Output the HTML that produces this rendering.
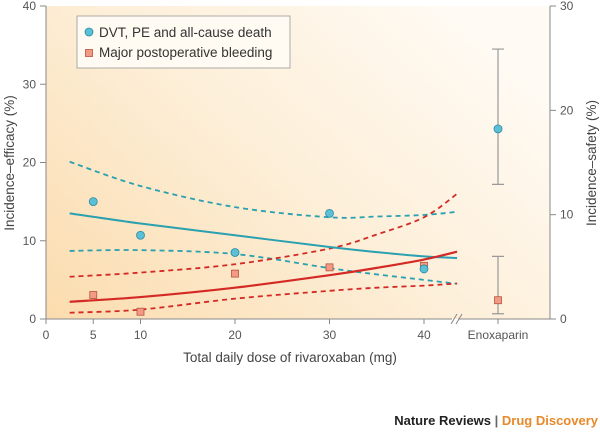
<!DOCTYPE html>
<html><head><meta charset="utf-8"><style>
body{margin:0;background:#fff;}
svg text{font-family:"Liberation Sans",sans-serif;}
</style></head><body>
<svg id="c" width="600" height="433" viewBox="0 0 600 433" xmlns="http://www.w3.org/2000/svg">
<defs>
<linearGradient id="bg" x1="0" y1="1" x2="1" y2="0.3">
<stop offset="0" stop-color="#fbdcae"/><stop offset="0.55" stop-color="#fdefd9"/><stop offset="1" stop-color="#fffaf3"/>
</linearGradient>
</defs>
<rect x="46" y="6" width="504" height="313" fill="url(#bg)"/>
<g id="axes"></g>
<g id="marks"></g>
<g>
<rect x="77" y="16" width="213" height="52" fill="#fffaf2" stroke="#999" stroke-width="0.8"/>
<circle cx="89" cy="32" r="4" fill="#5bc0d6" stroke="#2a8aa3" stroke-width="0.8"/>
<text x="99" y="37" font-size="13.5" fill="#333">DVT, PE and all-cause death</text>
<rect x="85.5" y="49.5" width="7" height="7" fill="#f29a84" stroke="#b5533f" stroke-width="0.8"/>
<text x="99" y="57" font-size="13.5" fill="#333">Major postoperative bleeding</text>
</g>
<text x="290" y="362" font-size="13.5" fill="#444" text-anchor="middle">Total daily dose of rivaroxaban (mg)</text>
<text transform="translate(14,163) rotate(-90)" font-size="13.5" fill="#444" text-anchor="middle">Incidence–efficacy (%)</text>
<text transform="translate(596,163) rotate(-90)" font-size="13.5" fill="#444" text-anchor="middle">Incidence–safety (%)</text>
<text x="598" y="425" font-size="13" font-weight="bold" text-anchor="end"><tspan fill="#222">Nature Reviews</tspan><tspan fill="#666"> | </tspan><tspan fill="#e8892a">Drug Discovery</tspan></text>
</svg>
<script>
const doses=[5,10,20,30,40];
const efficacy=[15,10.7,8.5,13.5,6.4];
const safety=[2.3,0.7,4.35,4.95,5.1];
const enoxEff=24.3, enoxEffLo=17.2, enoxEffHi=34.5;
const enoxSaf=1.8, enoxSafLo=0.5, enoxSafHi=6.0;
const curveX=[2.5,10,20,30,35,40,43.5];
const effFit=[13.5,12.2,10.7,9.2,8.55,8.0,7.8];
const effHi=[20.1,17,14.3,13,13.1,13.3,13.7];
const effLo=[8.7,8.8,8.3,6.5,5.7,5,4.5];
const safFit=[1.65,2.1,3.0,4.2,4.9,5.7,6.45];
const safHi=[4.05,4.45,5.25,6.75,8.1,9.75,12];
const safLo=[0.6,0.9,1.95,2.7,3.0,3.2,3.4];
const xTicks=[0,5,10,20,30,40];
const yLeftTicks=[0,10,20,30,40];
const yRightTicks=[0,10,20,30];

const X=v=>46+v*9.45, ENOX=498;
const YL=v=>319-v*7.825, YR=v=>319-v*10.433;
const NS='http://www.w3.org/2000/svg';
const ax=document.getElementById('axes'), mk=document.getElementById('marks');
function el(t,a,p){const e=document.createElementNS(NS,t);for(const k in a)e.setAttribute(k,a[k]);p.appendChild(e);return e;}
const G='#888';
const xa=el('path',{d:'M46,319H452 M458,319H550',stroke:G,'stroke-width':1,fill:'none'},ax);


const la=el('line',{x1:46,y1:6,x2:46,y2:319,stroke:G},ax);


const ra=el('line',{x1:550,y1:6,x2:550,y2:319,stroke:G},ax);


const br=el('path',{d:'M451,324L457,314 M456,324L462,314',stroke:G,fill:'none'},ax);


xTicks.forEach(v=>{el('line',{x1:X(v),y1:319,x2:X(v),y2:324,stroke:G},ax);
 const t=el('text',{x:X(v),y:339,'font-size':12,fill:'#555','text-anchor':'middle'},ax);t.textContent=v;
 
 });
el('line',{x1:ENOX,y1:319,x2:ENOX,y2:324,stroke:G},ax);
const et=el('text',{x:ENOX,y:339,'font-size':12,fill:'#555','text-anchor':'middle'},ax);et.textContent='Enoxaparin';


yLeftTicks.forEach(v=>{el('line',{x1:40,y1:YL(v),x2:46,y2:YL(v),stroke:G},ax);
 const t=el('text',{x:36,y:YL(v)+4,'font-size':12,fill:'#555','text-anchor':'end'},ax);t.textContent=v;
 
 });
yRightTicks.forEach(v=>{el('line',{x1:550,y1:YR(v),x2:556,y2:YR(v),stroke:G},ax);
 const t=el('text',{x:560,y:YR(v)+4,'font-size':12,fill:'#555'},ax);t.textContent=v;
 
 });
function smooth(xs,ys,Y){const p=xs.map((x,i)=>[X(x),Y(ys[i])]);let d='M'+p[0];
 for(let i=0;i<p.length-1;i++){const p0=p[i-1]||p[i],p1=p[i],p2=p[i+1],p3=p[i+2]||p2;
  d+=' C'+(p1[0]+(p2[0]-p0[0])/6)+','+(p1[1]+(p2[1]-p0[1])/6)+' '+(p2[0]-(p3[0]-p1[0])/6)+','+(p2[1]-(p3[1]-p1[1])/6)+' '+p2;}return d;}
function curve(ys,Y,c,dash,name,w){const e=el('path',{d:smooth(curveX,ys,Y),stroke:c,'stroke-width':w,fill:'none'},mk);
 if(dash)e.setAttribute('stroke-dasharray','5,4');
 
 }
const B='#2aa0b0',R='#d42a25';
curve(effHi,YL,B,1,'efficacy-upper-ci',1.8);
curve(effLo,YL,B,1,'efficacy-lower-ci',1.8);
curve(safHi,YR,R,1,'safety-upper-ci',1.8);
curve(safLo,YR,R,1,'safety-lower-ci',1.8);
curve(effFit,YL,B,0,'efficacy-fit-line',2);
curve(safFit,YR,R,0,'safety-fit-line',2.2);
function err(lo,hi,Y,name){const e=el('path',{d:`M${ENOX},${Y(lo)}V${Y(hi)} M${ENOX-6},${Y(lo)}H${ENOX+6} M${ENOX-6},${Y(hi)}H${ENOX+6}`,stroke:'#999','stroke-width':1.2,fill:'none'},mk);
 
 }
err(enoxEffLo,enoxEffHi,YL,'enoxaparin-efficacy-error-bar');
err(enoxSafLo,enoxSafHi,YR,'enoxaparin-safety-error-bar');
function sq(x,v,name){const e=el('rect',{x:x-3.5,y:YR(v)-3.5,width:7,height:7,fill:'#f29a84',stroke:'#b5533f','stroke-width':0.8},mk);
 
 }
function ci(x,v,name){const e=el('circle',{cx:x,cy:YL(v),r:4,fill:'#5bc0d6',stroke:'#2a8aa3','stroke-width':0.8},mk);
 
 }
doses.forEach((d,i)=>sq(X(d),safety[i],'safety-point'));
sq(ENOX,enoxSaf,'enoxaparin-safety-point');
doses.forEach((d,i)=>ci(X(d),efficacy[i],'efficacy-point'));
ci(ENOX,enoxEff,'enoxaparin-efficacy-point');
</script>
</body></html>
